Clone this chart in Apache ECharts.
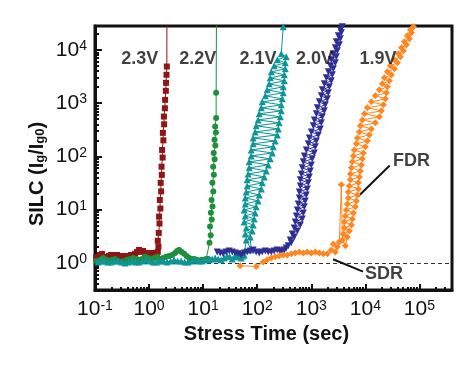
<!DOCTYPE html>
<html><head><meta charset="utf-8">
<script src="https://cdn.jsdelivr.net/npm/echarts@6/dist/echarts.min.js"></script>
<style>html,body{margin:0;padding:0;background:#fff}#c{width:474px;height:370px}</style>
</head><body><div id="c"></div>
<script>
// ---- tick positions ----
const xMajorTicks = [0.1, 1, 10, 100, 1000, 10000, 100000];
const xMinorTicks = [0.2,0.3,0.4,0.5,0.6,0.7,0.8,0.9, 2,3,4,5,6,7,8,9, 20,30,40,50,60,70,80,90,
  200,300,400,500,600,700,800,900, 2000,3000,4000,5000,6000,7000,8000,9000,
  20000,30000,40000,50000,60000,70000,80000,90000, 200000,300000,400000];
const yMajorTicks = [1, 10, 100, 1000, 10000];
const yMinorTicks = [0.4,0.5,0.6,0.7,0.8,0.9, 2,3,4,5,6,7,8,9, 20,30,40,50,60,70,80,90,
  200,300,400,500,600,700,800,900, 2000,3000,4000,5000,6000,7000,8000,9000, 20000];

// ---- series (stress time [s], SILC Ig/Ig0) ----
const seriesNames = ['2.3V', '2.2V', '2.1V', '2.0V', '1.9V'];
const s23 = [[0.105,1.24],[0.114,1.30],[0.124,1.41],[0.135,1.48],[0.150,1.30],[0.167,1.19],[0.182,1.35],[0.198,1.41],
  [0.215,1.24],[0.234,1.30],[0.255,1.41],[0.278,1.24],[0.303,1.30],[0.330,1.35],[0.360,1.30],[0.392,1.24],
  [0.427,1.35],[0.464,1.41],[0.506,1.30],[0.551,1.48],[0.600,1.61],[0.653,1.75],[0.711,1.61],[0.774,1.68],
  [0.843,1.54],[0.918,1.48],[1.00,1.41],[1.09,1.54],[1.19,1.48],[1.29,1.41],[1.37,1.54],[1.45,1.61],
  [1.49,2.02],[1.45,2.6],[1.51,3.66],[1.56,5.5],[1.53,7.4],[1.62,10.5],[1.58,15.2],[1.67,22],[1.64,31.8],
  [1.72,45],[1.70,64],[1.78,95],[1.74,132],[1.84,200],[1.80,276],[1.90,400],[1.88,559],[1.96,800],
  [1.98,1150],[2.04,1700],[2.06,2400],[2.10,3400],[2.13,4860],[2.14,100000]];
const s22 = [[0.105,1.09],[0.114,1.04],[0.127,1.14],[0.141,1.24],[0.160,1.14],[0.182,1.09],[0.206,1.14],[0.234,1.19],
  [0.266,1.09],[0.303,1.04],[0.345,1.09],[0.392,1.14],[0.446,1.19],[0.506,1.24],[0.575,1.19],[0.653,1.14],
  [0.742,1.19],[0.843,1.30],[0.958,1.24],[1.09,1.19],[1.24,1.24],[1.41,1.30],[1.60,1.19],[1.82,1.24],
  [2.07,1.30],[2.34,1.35],[2.66,1.41],[3.03,1.54],[3.30,1.68],[3.59,1.75],[4.00,1.61],[4.45,1.48],
  [4.95,1.35],[5.51,1.24],[6.13,1.19],[6.81,1.19],[7.58,1.14],[8.43,1.09],[9.37,1.14],[10.4,1.14],
  [11.4,1.19],[12.4,1.19],
  [13.1,2.38],[13.8,3.3],[13.4,4.8],[14.4,6.5],[13.9,8.7],[14.9,11.5],[14.3,15.2],[15.4,22],[14.8,31.8],
  [15.8,45],[15.3,64],[16.3,88],[15.7,116],[16.8,160],[16.2,204],[17.2,280],[16.7,363],[17.4,527],
  [17.4,1560],[17.7,100000]];
const s21 = [[0.114,1.04],[0.130,1.09],[0.147,1.09],[0.172,1.04],[0.198,1.04],[0.230,1.09],[0.267,1.09],[0.310,1.04],
  [0.36,1.0],[0.418,1.04],[0.484,1.09],[0.562,1.04],[0.653,1.04],[0.758,1.09],[0.88,1.14],[1.02,1.09],
  [1.19,1.04],[1.38,1.04],[1.60,1.09],[1.86,1.09],[2.15,1.04],[2.50,1.09],[2.90,1.14],[3.37,1.09],
  [3.92,1.09],[4.55,1.04],[5.27,1.04],[6.12,1.09],[7.11,1.14],[8.25,1.09],[9.57,1.09],[11.1,1.14],
  [12.9,1.14],[14.7,1.19],[16.7,1.24],[19.0,1.19],[21.5,1.14],[24.5,1.24],[27.8,1.35],[31.0,1.30],
  [34.4,1.19],[38.3,1.30],[42.6,1.41],[46.4,1.30],[50.6,1.24],[54.0,1.35],[57.4,1.41],
  [62.6,2.70],[77.4,1.75],[74.2,3.08],[60.0,3.50],[80.8,3.99],[62.6,4.54],[84.3,5.17],[57.4,5.89],
  [88.0,6.70],[60.0,7.63],[91.8,8.69],[57.4,9.89],[95.8,11.3],[60.0,12.8],[104,14.6],[60.0,16.6],
  [109,18.9],[62.6,21.5],[119,24.5],[65.3,27.9],[124,31.8],[65.3,36.2],[135,41.2],[68.1,46.9],
  [147,53.4],[71.1,60.8],[160,69.2],[71.1,78.8],[174,89.8],[77.4,102],[190,116],[77.4,132],
  [198,151],[84.3,172],[215,195],[84.3,222],[235,253],[91.8,288],[245,328],[95.8,374],[255,426],
  [104,484],[267,552],[109,628],[278,715],[119,814],[278,927],[124,1055],[290,1202],[141,1368],
  [303,1557],[153,1774],[303,2018],[167,2300],[316,2616],[174,2981],[316,3390],[182,3865],
  [330,4395],[206,5011],[330,5698],[235,6497],[344,7390],[278,8420],[303,27040]];
const s20 = [[18.2,1.61],[20.6,1.54],[23.4,1.48],[26.6,1.61],[30.3,1.68],[34.5,1.61],[39.2,1.54],[44.5,1.48],
  [50.6,1.41],[57.4,1.54],[65.3,1.61],[74.2,1.68],[84.3,1.75],[95.8,1.61],[109,1.54],[124,1.61],
  [141,1.68],[160,1.61],[182,1.61],[206,1.68],[234,1.75],[262,1.68],[290,1.68],[318,1.75],[344,1.91],
  [375,2.09],[426,2.38],[408,2.70],[484,3.08],[445,3.50],[551,3.99],[484,4.54],[626,5.17],[505,5.89],
  [681,6.70],[528,7.63],[711,8.69],[551,9.89],[742,11.3],[574,12.8],[774,14.6],[600,16.6],[808,18.9],
  [600,21.5],[843,24.5],[626,27.9],[880,31.8],[626,36.2],[918,41.2],[653,46.9],[958,53.4],[681,60.8],
  [1000,69.2],[711,78.8],[1043,89.8],[742,102],[1136,116],[808,132],[1186,151],[880,172],[1237,195],
  [918,222],[1348,253],[1000,288],[1468,328],[1089,374],[1532,426],[1136,484],[1598,552],[1237,628],
  [1741,715],[1292,814],[1817,927],[1406,1055],[1978,1202],[1532,1368],[2064,1557],[1598,1774],
  [2154,2018],[1741,2300],[2346,2616],[1896,2981],[2448,3390],[2064,3865],[2555,4395],[2248,5011],
  [2783,5698],[2346,6497],[2904,7390],[2555,8420],[3030,9580],[2783,10910],[3300,12420],[2904,14140],
  [3444,16100],[3162,18330],[3594,20860],[3444,23760],[3751,27040],[3914,30800]];
const s19 = [[48.4,0.88],[95.7,0.86],[129,1.04],[153,1.14],[182,1.24],[215,1.30],[255,1.35],[303,1.41],
  [359,1.41],[426,1.48],[505,1.54],[600,1.61],[711,1.54],[843,1.61],[1000,1.54],[1186,1.61],[1406,1.54],
  [1668,1.48],[1978,1.48],[2346,1.75],[2783,1.61],[3030,2.0],[2555,2.27],[3300,2.48],[3594,29.2],
  [3751,2.70],[4263,2.09],[4642,3.08],[3914,3.50],[5055,3.99],[4084,4.54],[5505,5.17],[4084,5.89],
  [5745,6.70],[4263,7.63],[5995,8.69],[4448,9.89],[6529,11.3],[4642,12.8],[6813,14.6],[4844,16.6],
  [7110,18.9],[4844,21.5],[7420,24.5],[5055,27.9],[7420,31.8],[5275,36.2],[7743,41.2],[5275,46.9],
  [8080,53.4],[5505,60.8],[8432,69.2],[5745,78.8],[8799,89.8],[5995,102],[9183,116],[6256,132],
  [10000,151],[6813,172],[10890,195],[7110,222],[11860,253],[7743,288],[12915,328],[8080,374],
  [15318,426],[8799,484],[18166,552],[9583,628],[19783,715],[10890,814],[21544,927],[12915,1055],
  [23462,1202],[15318,1368],[24490,1557],[18166,1774],[25551,2018],[20640,2300],[27826,2616],
  [22490,2981],[30302,3390],[25551,3865],[34440,4395],[29040,5011],[39136,5698],[34440,6497],
  [44480,7390],[40840,8420],[50548,9580],[46416,10910],[57450,12420],[52750,14140],[65284,16100],
  [59948,18330],[71096,20860],[68130,23760],[77426,27040],[80800,30800]];

// ---- annotations (data coordinates) ----
const voltLabelPos = [[0.673,6690],[7.98,6690],[103,6690],[1151,6690],[17200,6690]];
const noteTexts = ['FDR', 'SDR'];
const notePos = [[71100,82.3],[22000,0.62]];
const notePointers = [[[28200,67.2],[7330,17.6]], [[2523,1.17],[9060,0.687]]];
const yTitle = 'SILC (I{sub|g}/I{sub|g0})';

const colors = ['#8e1616', '#1f8f3c', '#0f9595', '#2e2e94', '#ff8722'];
const symbols = ['rect', 'circle', 'triangle', 'triangle', 'diamond'];
const rotations = [0, 0, 0, 180, 0];
const sizes = [6, 6, 7, 7, 7];
const allData = [s23, s22, s21, s20, s19];

const X_MIN = 0.1, X_MAX = 400000, Y_MIN = 0.31, Y_MAX = 28000;
const labelFont = "'Liberation Sans Narrow', 'Liberation Sans', Arial, sans-serif";
const titleFont = "'Liberation Sans', Arial, sans-serif";
const ink = '#111';

function supLabel(v) {
  const e = Math.round(Math.log10(v));
  return '{b|10}{s|' + e + '}';
}
const labelRich = {
  b: { fontSize: 21, fontFamily: labelFont, color: ink, lineHeight: 21 },
  s: { fontSize: 14, fontFamily: labelFont, color: ink, verticalAlign: 'top', lineHeight: 14 }
};

const chart = echarts.init(document.getElementById('c'), null, { renderer: 'canvas' });

const series = allData.map((d, i) => ({
  type: 'line', name: seriesNames[i], data: d, xAxisIndex: 0, yAxisIndex: 0,
  symbol: symbols[i], symbolSize: sizes[i], symbolRotate: rotations[i], showAllSymbol: true,
  lineStyle: { width: 1, color: colors[i] }, itemStyle: { color: colors[i] },
  clip: true, animation: false, z: 3 + i
}));
series[0].markLine = {
  silent: true, symbol: 'none', label: { show: false },
  lineStyle: { type: [4, 3], color: '#333', width: 1 },
  data: [{ yAxis: 1 }]
};
series.push({
  type: 'scatter', xAxisIndex: 0, yAxisIndex: 0, symbolSize: 1,
  itemStyle: { color: 'rgba(0,0,0,0)' }, z: 20, animation: false, silent: true,
  data: seriesNames.map((n, i) => ({ name: n, value: voltLabelPos[i] }))
    .concat(noteTexts.map((n, i) => ({ name: n, value: notePos[i] }))),
  label: { show: true, position: 'inside', formatter: '{b}', fontSize: 18, fontWeight: 'bold',
    fontFamily: titleFont, color: ink },
  markLine: {
    silent: true, symbol: 'none', label: { show: false },
    lineStyle: { type: 'solid', color: ink, width: 2 },
    data: notePointers.map(p => [{ coord: p[0] }, { coord: p[1] }])
  }
});

chart.setOption({
  backgroundColor: '#fff',
  animation: false,
  grid: { left: 95, right: 22, top: 26, bottom: 80, show: true, borderColor: ink, borderWidth: 3 },
  graphic: [{
    type: 'text', x: 37, y: 174, rotation: Math.PI / 2, z: 50,
    style: {
      text: yTitle, fontSize: 20, fontWeight: 'bold', fontFamily: titleFont, fill: ink,
      align: 'center', verticalAlign: 'middle',
      rich: { sub: { fontSize: 13, fontWeight: 'bold', fontFamily: titleFont, fill: ink, verticalAlign: 'bottom' } }
    }
  }],
  xAxis: [{
    type: 'log', logBase: 10, min: X_MIN, max: X_MAX, position: 'bottom',
    name: 'Stress Time (sec)', nameLocation: 'middle', nameGap: 33,
    nameTextStyle: { fontSize: 20, fontWeight: 'bold', fontFamily: titleFont, color: ink, padding: [0, 14, 0, 0] },
    axisLine: { show: true, lineStyle: { color: ink, width: 3 } },
    axisTick: { show: true, inside: true, length: 6, customValues: xMajorTicks, lineStyle: { color: ink, width: 2 } },
    axisLabel: { show: true, customValues: xMajorTicks, formatter: supLabel, rich: labelRich, margin: 9 },
    splitLine: { show: false }, minorTick: { show: false }
  }, {
    type: 'log', logBase: 10, min: X_MIN, max: X_MAX, position: 'bottom',
    axisLine: { show: false },
    axisTick: { show: true, inside: true, length: 3, customValues: xMinorTicks, lineStyle: { color: ink, width: 2 } },
    axisLabel: { show: false }, splitLine: { show: false }
  }],
  yAxis: [{
    type: 'log', logBase: 10, min: Y_MIN, max: Y_MAX, position: 'left',
    axisLine: { show: true, lineStyle: { color: ink, width: 3 } },
    axisTick: { show: true, inside: true, length: 7, customValues: yMajorTicks, lineStyle: { color: ink, width: 2 } },
    axisLabel: { show: true, customValues: yMajorTicks, formatter: supLabel, rich: labelRich, margin: 8 },
    splitLine: { show: false }, minorTick: { show: false }
  }, {
    type: 'log', logBase: 10, min: Y_MIN, max: Y_MAX, position: 'left',
    axisLine: { show: false },
    axisTick: { show: true, inside: true, length: 4, customValues: yMinorTicks, lineStyle: { color: ink, width: 2 } },
    axisLabel: { show: false }, splitLine: { show: false }
  }],
  series: series
});
</script></body></html>
